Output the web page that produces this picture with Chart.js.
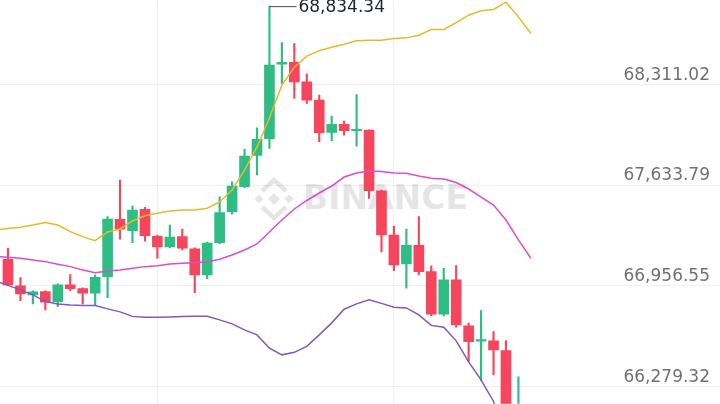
<!DOCTYPE html>
<html>
<head>
<meta charset="utf-8">
<script src="https://cdn.jsdelivr.net/npm/chart.js@4.4.0/dist/chart.umd.min.js"></script>
<style>
  html, body { margin: 0; padding: 0; background: #fff; }
  #wrap { width: 720px; height: 404px; }
</style>
</head>
<body>
<div id="wrap"><canvas id="kline" width="720" height="404"></canvas></div>
<script>
// K线 (candle 0 = first one on screen)
const opens = [67135.6, 66956.6, 66896.2, 66918.4, 66851.3, 66963.3, 66938.5, 66907.6, 67018.9, 67403.8,
  67327.4, 67470.9, 67289.8, 67218.1, 67287.1, 67204.7, 67030.3, 67246.9, 67454.8, 67622.4,
  67832.9, 67944.2, 68445.1, 68456.5, 68326.4, 68203.7, 67987.1, 68040.8, 67997.9, 68002.6,
  67595.6, 67298.5, 67104.1, 67229.5, 67052.5, 66766.8, 66996.8, 66688.4, 66585.8, 66587.8,
  66522.7, 66050.0];
const highs = [67209.3, 67012.2, 66923.0, 66923.0, 66970.0, 67032.3, 66943.0, 67030.3, 67421.2, 67667.3,
  67493.0, 67484.3, 67298.5, 67365.6, 67338.8, 67211.4, 67251.6, 67555.3, 67655.9, 67875.2,
  68018.0, 68834.34, 68590.6, 68583.9, 68378.1, 68237.2, 68096.4, 68062.9, 68240.6, 68005.0,
  67600.0, 67358.9, 67338.8, 67421.2, 67090.7, 67075.3, 67092.7, 66706.5, 66791.0, 66650.1,
  66589.8, 66346.4];
const lows = [66958.0, 66858.0, 66835.9, 66795.6, 66817.8, 66925.1, 66835.9, 66829.2, 66878.1, 67269.7,
  67246.9, 67256.3, 67142.3, 67213.4, 67198.0, 66911.6, 67005.5, 67240.0, 67439.3, 67615.7,
  67700.8, 67879.9, 68315.7, 68215.1, 68181.6, 67924.1, 67930.8, 67969.0, 67895.3, 67544.6,
  67184.5, 67059.2, 66941.1, 67030.3, 66757.4, 66755.0, 66679.7, 66449.0, 66321.6, 66359.8,
  66030.0, 65990.0];
const closes = [66963.3, 66902.9, 66916.3, 66847.3, 66963.3, 66938.5, 66907.6, 67014.9, 67405.8, 67336.8,
  67466.2, 67293.8, 67218.1, 67285.1, 67209.3, 67030.3, 67244.9, 67448.1, 67627.1, 67828.2,
  67940.2, 68438.4, 68456.5, 68326.4, 68203.7, 67984.5, 68040.8, 67997.9, 68005.9, 67595.6,
  67298.5, 67097.4, 67229.5, 67052.5, 66766.8, 66996.8, 66695.1, 66583.1, 66591.1, 66527.4,
  66058.0, 66140.0];

// BOLL, starts one candle before the first visible one
const bollStart = -1;
const bollUp = [67332.1, 67342.1, 67350.2, 67365.6, 67382.3, 67365.6, 67320.7, 67287.1, 67260.3, 67318.6,
  67338.8, 67392.4, 67427.9, 67444.0, 67459.5, 67466.2, 67466.2, 67477.6, 67519.8, 67600.3,
  67734.4, 67888.6, 68083.0, 68304.3, 68425.0, 68498.7, 68535.6, 68559.1, 68579.2, 68602.7,
  68606.0, 68606.0, 68617.4, 68621.4, 68639.5, 68677.8, 68677.8, 68723.4, 68773.7, 68803.8,
  68811.9, 68860.8, 68762.3, 68650.9];
const bollMid = [67154.4, 67149.0, 67142.3, 67130.9, 67119.5, 67102.1, 67086.0, 67063.9, 67045.7, 67057.1,
  67063.9, 67075.3, 67086.0, 67092.7, 67104.1, 67108.8, 67112.8, 67119.5, 67135.6, 67164.4,
  67198.0, 67238.2, 67318.6, 67399.1, 67472.9, 67529.9, 67580.1, 67627.1, 67687.4, 67714.2,
  67727.7, 67724.3, 67714.2, 67712.2, 67694.1, 67679.4, 67674.0, 67650.5, 67607.0, 67553.3,
  67499.7, 67399.1, 67265.0, 67142.3];
const bollDn = [66990.1, 66959.9, 66929.7, 66896.2, 66851.3, 66835.9, 66829.2, 66825.8, 66824.5, 66802.4,
  66782.2, 66752.1, 66746.7, 66746.7, 66748.7, 66752.1, 66753.4, 66753.4, 66728.6, 66701.8,
  66661.5, 66628.0, 66538.8, 66493.9, 66510.7, 66550.9, 66628.0, 66708.5, 66800.3, 66835.9,
  66862.7, 66839.2, 66813.8, 66809.1, 66762.1, 66691.7, 66679.7, 66587.8, 66447.0, 66326.3,
  66180.8, 65937.4, 65769.8, 65635.7];

// 价格轴
const yTicks = [66279.32, 66956.55, 67633.79, 68311.02];
const yMin = 66165.33;
const yMax = 68874.26;
// 时间轴：可见范围与网格线所在的K线
const xMin = -0.6426;
const xMax = 57.19;
const xGridAt = [12, 31];

const UP = '#2EBD85';
const DOWN = '#F6465D';

const fmt = v => v.toLocaleString('en-US', { minimumFractionDigits: 2, maximumFractionDigits: 2 });

const candleColors = opens.map((o, i) => closes[i] >= o ? UP : DOWN);
const wickData = highs.map((h, i) => ({ x: i, y: [lows[i], h] }));
const bodyData = opens.map((o, i) => ({ x: i, y: [o, closes[i]] }));
const line = arr => arr.map((v, i) => ({ x: i + bollStart, y: v }));

// 水印
const watermark = {
  id: 'watermark',
  beforeDatasetsDraw(chart) {
    const { ctx, chartArea: a } = chart;
    const cx = (a.left + a.right) / 2;
    const cy = (a.top + a.bottom) / 2 - 3;
    const lx = cx - 86;
    ctx.save();
    ctx.fillStyle = 'rgba(0,0,0,0.1)';
    ctx.strokeStyle = 'rgba(0,0,0,0.1)';
    const diamond = (x, y, r) => {
      ctx.beginPath();
      ctx.moveTo(x, y - r);
      ctx.lineTo(x + r, y);
      ctx.lineTo(x, y + r);
      ctx.lineTo(x - r, y);
      ctx.closePath();
      ctx.fill();
    };
    diamond(lx, cy, 6);
    diamond(lx - 15, cy, 4.5);
    diamond(lx + 15, cy, 4.5);
    ctx.lineWidth = 4.5;
    ctx.lineJoin = 'miter';
    ctx.beginPath();
    ctx.moveTo(lx - 12, cy - 8);
    ctx.lineTo(lx, cy - 19);
    ctx.lineTo(lx + 12, cy - 8);
    ctx.stroke();
    ctx.beginPath();
    ctx.moveTo(lx - 12, cy + 8);
    ctx.lineTo(lx, cy + 19);
    ctx.lineTo(lx + 12, cy + 8);
    ctx.stroke();
    ctx.font = 'bold 33px "DejaVu Sans"';
    ctx.textBaseline = 'middle';
    ctx.textAlign = 'left';
    ctx.fillText('BINANCE', cx - 57, cy + 1);
    ctx.restore();
  }
};

// 最高价标注
const highMark = {
  id: 'highMark',
  afterDatasetsDraw(chart) {
    const { ctx } = chart;
    const xs = chart.scales.x, ys = chart.scales.y;
    const top = Math.max(...highs);
    const idx = highs.indexOf(top);
    const x = xs.getPixelForValue(idx);
    const y = ys.getPixelForValue(top);
    ctx.save();
    ctx.strokeStyle = '#474D57';
    ctx.lineWidth = 1;
    ctx.beginPath();
    ctx.moveTo(x, y + 0.5);
    ctx.lineTo(x + 27, y + 0.5);
    ctx.stroke();
    ctx.fillStyle = '#1E2329';
    ctx.font = '17px "DejaVu Sans"';
    ctx.textBaseline = 'middle';
    ctx.fillText(fmt(top), x + 29, y + 1.5);
    ctx.restore();
  }
};

new Chart(document.getElementById('kline'), {
  type: 'bar',
  data: {
    datasets: [
      { type: 'line', data: line(bollUp), borderColor: '#E6B928', borderWidth: 1.5, pointRadius: 0, order: 1 },
      { type: 'line', data: line(bollMid), borderColor: '#DA4FC8', borderWidth: 1.5, pointRadius: 0, order: 1 },
      { type: 'line', data: line(bollDn), borderColor: '#7E5ABE', borderWidth: 1.5, pointRadius: 0, order: 1 },
      { data: bodyData, backgroundColor: candleColors, barThickness: 10, minBarLength: 1.5, grouped: false, borderWidth: 0, order: 2 },
      { data: wickData, backgroundColor: candleColors, barThickness: 1.5, grouped: false, borderWidth: 0, order: 3 }
    ]
  },
  options: {
    responsive: false,
    animation: false,
    layout: { padding: 0 },
    plugins: { legend: { display: false }, tooltip: { enabled: false } },
    scales: {
      x: {
        type: 'linear',
        offset: false,
        bounds: 'data',
        min: xMin,
        max: xMax,
        afterBuildTicks: s => { s.ticks = xGridAt.map(v => ({ value: v })); },
        afterFit: s => { s.height = 0; },
        ticks: { display: false },
        grid: { color: '#F0F0F0', drawTicks: false, offset: false },
        border: { display: false }
      },
      y: {
        position: 'right',
        min: yMin,
        max: yMax,
        afterBuildTicks: s => { s.ticks = yTicks.map(v => ({ value: v })); },
        afterFit: s => { s.width = 0; },
        ticks: {
          mirror: true,
          padding: -10,
          labelOffset: -9,
          color: '#707070',
          font: { family: 'DejaVu Sans', size: 17 },
          callback: v => fmt(v)
        },
        grid: { color: '#F0F0F0', drawTicks: false },
        border: { display: false }
      }
    }
  },
  plugins: [watermark, highMark]
});
</script>
</body>
</html>
